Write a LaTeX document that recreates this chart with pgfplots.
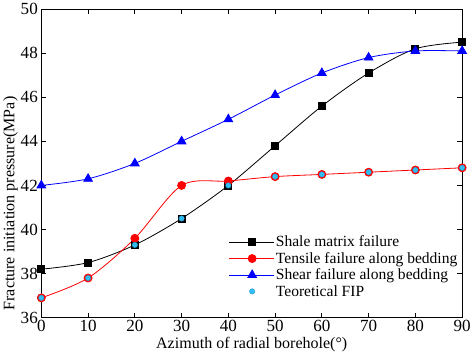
\documentclass[border=0pt]{standalone}
\usepackage{pgfplots}
\pgfplotsset{compat=1.18}
\usepackage{fontspec}
\setmainfont{Liberation Serif}
\pgfplotsset{
  linelegend/.style={legend image code/.code={%
     \draw[##1, mark=none] (0cm,0cm) -- (1.55cm,0cm);
     \draw[##1, only marks] plot coordinates {(0.8cm,0cm)};}},
  dotlegend/.style={legend image code/.code={%
     \draw[##1] plot coordinates {(0.8cm,0cm)};}},
}
\begin{document}
\begin{tikzpicture}
\begin{axis}[
  scale only axis,
  width=420pt, height=308pt,
  xmin=0, xmax=90, ymin=36, ymax=50,
  xtick={0,10,...,90}, ytick={36,38,...,50},
  tick align=inside,
  tick style={black, line width=0.8pt},
  major tick length=5pt,
  axis line style={line width=0.9pt},
  /pgf/number format/assume math mode=true,
  tick label style={font=\fontsize{17}{19}\selectfont},
  xticklabel style={yshift=1pt},
  label style={font=\fontsize{16}{18}\selectfont},
  xlabel={Azimuth of radial borehole(\textdegree)},
  ylabel={Fracture initiation pressure(MPa)},
  xlabel style={yshift=1pt},
  ylabel style={at={(ticklabel cs:0.37)}, yshift=-4pt},
  legend style={draw=none, fill=none, at={(0.443,0.055)}, anchor=south west,
    font=\fontsize{15.5}{17}\selectfont, row sep=0pt, inner sep=1pt},
  legend cell align=left,
]
\addplot[black, line width=0.8pt, smooth, tension=0.5, mark=square*, mark size=3.5pt, mark options={solid}, linelegend] coordinates {
(0,38.2) (10,38.5) (20,39.3) (30,40.5) (40,42.0) (50,43.8) (60,45.6) (70,47.1) (80,48.2) (90,48.5)};
\addlegendentry{Shale matrix failure}
\addplot[red, line width=0.8pt, smooth, tension=0.5, mark=*, mark size=4pt, linelegend] coordinates {
(0,36.9) (10,37.8) (20,39.6) (30,42.0) (40,42.2) (50,42.4) (60,42.5) (70,42.6) (80,42.7) (90,42.8)};
\addlegendentry{Tensile failure along bedding}
\addplot[blue, line width=0.8pt, smooth, tension=0.5, mark=triangle*, mark size=5pt, linelegend] coordinates {
(0,42.0) (10,42.3) (20,43.0) (30,44.0) (40,45.0) (50,46.1) (60,47.1) (70,47.8) (80,48.1) (90,48.1)};
\addlegendentry{Shear failure along bedding}
\addplot[only marks, mark=*, mark size=2.7pt, draw=cyan!70!teal, fill=cyan!80!white, dotlegend] coordinates {
(0,36.9) (10,37.8) (20,39.3) (30,40.5) (40,42.0) (50,42.4) (60,42.5) (70,42.6) (80,42.7) (90,42.8)};
\addlegendentry{Teoretical FIP}
\end{axis}
\end{tikzpicture}
\end{document}
